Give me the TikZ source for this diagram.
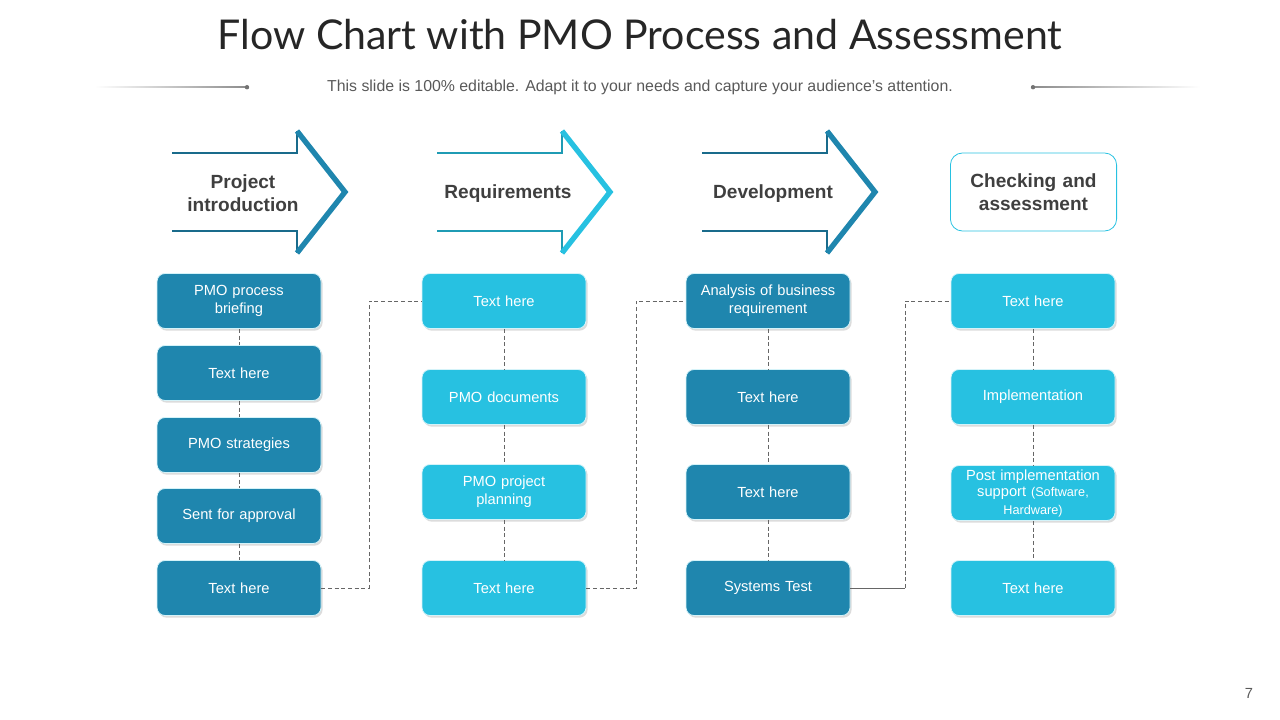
\documentclass[tikz,border=0pt]{standalone}
\usepackage{fontspec}
\setmainfont{Liberation Sans}
\newfontfamily\titlefont{Lato}
\usetikzlibrary{positioning,shadows}
\definecolor{darkblue}{HTML}{1F86AE}
\definecolor{lightblue}{HTML}{27C1E1}
\definecolor{headgray}{HTML}{3F3F3F}

\begin{document}
\begin{tikzpicture}[x=0.75pt,y=-0.75pt,
  box/.style={rounded corners=6pt, minimum width=123pt, minimum height=41.25pt,
    text width=118pt, align=center, text=white, inner sep=1pt,
    font=\fontsize{11}{13.5}\selectfont, draw=white!80!lightblue, line width=0.6pt,
    drop shadow={shadow xshift=1.2pt, shadow yshift=-1.6pt, fill=black!30, opacity=0.45}},
  darkbox/.style={box, fill=darkblue},
  lightbox/.style={box, fill=lightblue},
  head/.style={font=\bfseries\fontsize{14.3}{17.3}\selectfont, text=headgray, align=center},
  link/.style={draw=black!60, line width=0.5pt, dash pattern=on 3pt off 2pt}]
\useasboundingbox (0,0) rectangle (1280,720);

% title and subtitle
\node [font=\titlefont\fontsize{30.8}{36}\selectfont, text=black!85] (title) at (640,35)
  {Flow Chart with PMO Process and Assessment};
\node [font=\fontsize{11.9}{14}\selectfont, text=black!65] (sub) at (640,87)
  {This slide is 100\% editable. Adapt it to your needs and capture your audience's attention.};
\shade [left color=white, right color=black!45] (95,86.5) rectangle (247,88);
\fill [black!55] (247,87.2) circle (2.2);
\shade [left color=black!45, right color=white] (1033,86.5) rectangle (1200,88);
\fill [black!55] (1033,87.2) circle (2.2);
\node [font=\fontsize{11}{13}\selectfont, text=black!65] (page) at (1249,693) {7};

% header arrows
\foreach \x/\c in {172/darkblue,437/lightblue,702/darkblue} {
  \draw [\c!80!black, line width=0.8pt] (\x,153) -- (\x+125,153) -- (\x+125,131);
  \draw [\c!80!black, line width=0.8pt] (\x,231) -- (\x+125,231) -- (\x+125,253);
  \draw [\c, line width=4pt, miter limit=10] (\x+125,131) -- (\x+173,192) -- (\x+125,253);
}
\node [head] (h1) at (243,193) {Project\\introduction};
\node [head] (h2) at (508,194) {Requirements};
\node [head] (h3) at (773,194) {Development};
\node [head, draw=lightblue, line width=0.6pt, rounded corners=9pt, minimum width=123.75pt,
  minimum height=58.5pt, text width=118pt] (h4) at (1033.5,192) {Checking and\\assessment};

% column 1
\node [darkbox] (a1) at (239,301) {PMO process\\briefing};
\node [darkbox] (a2) at (239,373) {Text here};
\node [darkbox] (a3) at (239,445) {PMO strategies};
\node [darkbox] (a4) at (239,516) {Sent for approval};
\node [darkbox] (a5) at (239,588) {Text here};

% column 2
\node [lightbox] (b1) at (504,301) {Text here};
\node [lightbox] (b2) at (504,397) {PMO documents};
\node [lightbox] (b3) at (504,492) {PMO project\\planning};
\node [lightbox] (b4) at (504,588) {Text here};

% column 3
\node [darkbox] (c1) at (768,301) {Analysis of business\\requirement};
\node [darkbox] (c2) at (768,397) {Text here};
\node [darkbox] (c3) at (768,492) {Text here};
\node [darkbox] (c4) at (768,588) {Systems Test};

% column 4
\node [lightbox] (d1) at (1033,301) {Text here};
\node [lightbox] (d2) at (1033,397) {Implementation};
\node [lightbox, font=\fontsize{11}{13.5}\selectfont] (d3) at (1033,493)
  {Post implementation\\support {\fontsize{9.5}{12}\selectfont(Software,\\Hardware)}};
\node [lightbox] (d4) at (1033,588) {Text here};

% links
\draw [link] (a1) -- (a2) (a2) -- (a3) (a3) -- (a4) (a4) -- (a5);
\draw [link] (b1) -- (b2) (b2) -- (b3) (b3) -- (b4);
\draw [link] (c1) -- (c2) (c2) -- (c3) (c3) -- (c4);
\draw [link] (d1) -- (d2) (d2) -- (d3) (d3) -- (d4);

\coordinate (j1) at (369,301);
\coordinate (j2) at (636,301);
\coordinate (j3) at (905,301);
\draw [link] (a5.east) -| (j1) -- (b1.west);
\draw [link] (b4.east) -| (j2) -- (c1.west);
\draw [draw=black!60, line width=0.5pt] (c4.east) -- (j3 |- c4.east);
\draw [link] (j3 |- c4.east) -- (j3) -- (d1.west);
\end{tikzpicture}
\end{document}
